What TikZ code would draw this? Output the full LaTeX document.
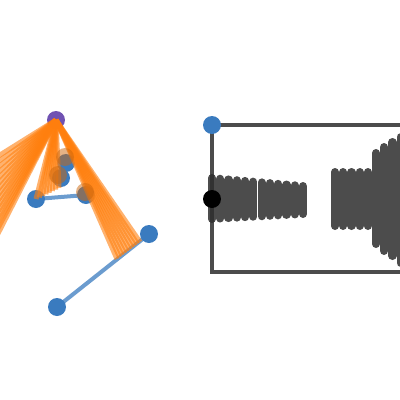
\documentclass[tikz,border=0pt]{standalone}
\usetikzlibrary{calc}
\definecolor{mblue}{HTML}{3A7BBF}
\definecolor{morange}{HTML}{FF7F0E}
\definecolor{mpurple}{HTML}{7052B2}
\definecolor{mgray}{HTML}{2D2D2D}
\tikzset{
  bluedot/.style={fill=mblue},
  blueline/.style={draw=mblue, line width=4pt, opacity=0.75},
  fanline/.style={draw=morange, line width=5pt, opacity=0.6},
  orangedisc/.style={fill=morange!80!black, opacity=0.5},
  barline/.style={draw=mgray, line width=8.2pt, line cap=round, opacity=0.85},
  frameline/.style={draw=mgray, line width=4pt, opacity=0.85},
}
\begin{document}
\begin{tikzpicture}[x=1pt,y=-1pt]
\useasboundingbox (0,0) rectangle (400,400);
\clip (0,0) rectangle (400,400);
% coordinates
\coordinate (apex) at (56,120);
\coordinate (b1) at (36,199);
\coordinate (b2) at (86,195);
\coordinate (b3) at (61,178);
\coordinate (b4) at (66,163);
\coordinate (b5) at (149,234);
\coordinate (b6) at (57,307);
% blue connectors
\draw[blueline] (b1) -- (b2);
\draw[blueline] (b5) -- (b6);
% blue dots
\foreach \p in {b1,b2,b3,b4,b5,b6} \fill[bluedot] (\p) circle (9);
% purple apex
\fill[mpurple] (apex) circle (9);
% fan 1
\foreach \i in {0,...,14} {
  \draw[fanline] (apex) -- ($(-40,180)!\i/14!(-40,308)$);
}
% fan 2
\foreach \i in {0,...,7} {
  \draw[fanline] (apex) -- ($(36,199)!\i/7!(59,188)$);
}
% fan 3
\foreach \i in {0,...,9} {
  \draw[fanline] (apex) -- ($(117,259)!\i/9!(140,242)$);
}
% translucent orange discs
\fill[orangedisc] (65,157) circle (9);
\fill[orangedisc] (58,175) circle (9);
\fill[orangedisc] (85,192) circle (9);
% right panel frame
\draw[frameline] (450,125) -- (212,125) -- (212,272) -- (450,272);
% bars group 1
\foreach \i in {0,...,11} {
  \pgfmathsetmacro{\bx}{212+8.27*\i}
  \pgfmathsetmacro{\bt}{174+8*\i/11+4.1}
  \pgfmathsetmacro{\bb}{223-5*\i/11-4.1}
  \draw[barline] (\bx,\bt) -- (\bx,\bb);
}
% bars group 2
\foreach \bx/\bt/\bb in {335/168/230, 343.2/168/230, 351.4/168/230, 359.6/168/230, 367.8/168/230,
  376/149/248, 384.2/143/255, 392.4/138/260, 400.6/133/267} {
  \draw[barline] (\bx,\bt+4.1) -- (\bx,\bb-4.1);
}
% dots on frame
\coordinate (f1) at (212,125);
\coordinate (f2) at (212,199);
\fill[mblue] (f1) circle (9);
\fill[black] (f2) circle (9);
\end{tikzpicture}
\end{document}
